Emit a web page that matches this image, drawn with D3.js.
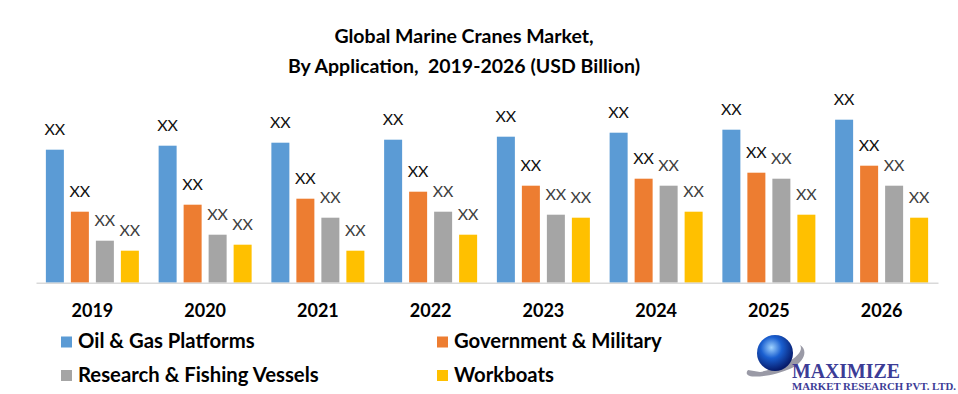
<!DOCTYPE html>
<html lang="en">
<head>
<meta charset="UTF-8">
<title>Global Marine Cranes Market</title>
<script src="https://d3js.org/d3.v7.min.js"></script>
<style>
  body { margin: 0; background: #fff; }
  text { font-family: Lato, "Open Sans", sans-serif; }
  text.logo { font-family: "Liberation Serif", "DejaVu Serif", serif; }
</style>
</head>
<body>
<div id="chart"></div>
<script>
// data (arbitrary units, labels are shown as "XX")
var years = ["2019", "2020", "2021", "2022", "2023", "2024", "2025", "2026"];
var seriesNames = ["Oil & Gas Platforms", "Government & Military", "Research & Fishing Vessels", "Workboats"];
var colors = ["#5B9BD5", "#ED7D31", "#A5A5A5", "#FFC000"];
var oilGas     = [13.3, 13.7, 14.0, 14.3, 14.6, 15.0, 15.3, 16.3];
var government = [7.1, 7.8, 8.4, 9.1, 9.7, 10.4, 11.0, 11.7];
var research   = [4.2, 4.8, 6.5, 7.1, 6.8, 9.7, 10.4, 9.7];
var workboats  = [3.2, 3.8, 3.2, 4.8, 6.5, 7.1, 6.8, 6.5];
var valueLabel = "XX";

var W = 958, H = 394;
var baseline = 282.7;

var svg = d3.select("#chart").append("svg")
  .attr("width", W).attr("height", H);

// title
svg.append("text").attr("x", 464).attr("y", 43)
  .attr("text-anchor", "middle").attr("font-weight", "bold")
  .attr("font-size", 19.5).attr("fill", "#000")
  .text("Global Marine Cranes Market,");
svg.append("text").attr("x", 464).attr("y", 73)
  .attr("text-anchor", "middle").attr("font-weight", "bold")
  .attr("font-size", 19.5).attr("fill", "#000")
  .style("white-space", "pre")
  .text("By Application,  2019-2026 (USD Billion)");

var data = years.map(function (y, i) {
  return { year: y, values: [oilGas[i], government[i], research[i], workboats[i]] };
});

var x0 = d3.scaleBand().domain(years).range([36, 938]).padding(0);
var x1 = d3.scaleBand().domain(d3.range(4)).range([0, x0.bandwidth()])
  .paddingInner(0.28).paddingOuter(0.395);
var y = d3.scaleLinear().domain([0, 20]).range([baseline, baseline - 200]);

var groups = svg.append("g").selectAll("g").data(data).join("g")
  .attr("transform", function (d) { return "translate(" + x0(d.year) + ",0)"; });

groups.selectAll("rect").data(function (d) { return d.values; }).join("rect")
  .attr("x", function (d, i) { return x1(i); })
  .attr("width", x1.bandwidth())
  .attr("y", function (d) { return y(d); })
  .attr("height", function (d) { return y(0) - y(d); })
  .attr("fill", function (d, i) { return colors[i]; });

groups.selectAll("text.lbl").data(function (d) { return d.values; }).join("text")
  .attr("class", "lbl")
  .attr("x", function (d, i) { return x1(i) + x1.bandwidth() / 2; })
  .attr("y", function (d) { return y(d) - 15; })
  .attr("text-anchor", "middle")
  .attr("font-size", 16)
  .attr("fill", function (d, i) { return i < 2 ? "#111" : "#404040"; })
  .text(valueLabel);

// x axis
var xAxis = svg.append("g")
  .attr("transform", "translate(0," + baseline + ")")
  .call(d3.axisBottom(x0).tickSize(0).tickPadding(22));
xAxis.select(".domain").attr("stroke", "#d9d9d9").attr("stroke-width", 1.5);
xAxis.selectAll("text")
  .attr("font-size", 18).attr("font-weight", "bold").attr("fill", "#000");

// legend
var legendPos = [[61, 336.5], [437, 336.5], [61, 370], [437, 370]];
var legend = svg.append("g").selectAll("g").data(seriesNames).join("g")
  .attr("transform", function (d, i) { return "translate(" + legendPos[i][0] + "," + legendPos[i][1] + ")"; });
legend.append("rect").attr("width", 11).attr("height", 11)
  .attr("fill", function (d, i) { return colors[i]; });
legend.append("text").attr("x", 17).attr("y", 11.5)
  .attr("font-size", 20.3).attr("font-weight", "bold").attr("fill", "#000")
  .text(function (d) { return d; });

// logo
var logo = svg.append("g");
var grad = svg.append("defs").append("radialGradient").attr("id", "globe")
  .attr("cx", "40%").attr("cy", "35%").attr("r", "65%");
grad.append("stop").attr("offset", "0%").attr("stop-color", "#9fd2ff");
grad.append("stop").attr("offset", "45%").attr("stop-color", "#1a5fd0");
grad.append("stop").attr("offset", "100%").attr("stop-color", "#061a6a");
logo.append("path")
  .attr("d", "M748,370 C740,380 770,378 792,368 C805,361 808,350 800,345 C805,352 790,366 760,372 Z")
  .attr("fill", "#9a9aa6");
logo.append("circle").attr("cx", 775).attr("cy", 353).attr("r", 18)
  .attr("fill", "url(#globe)");
logo.append("text").attr("class", "logo").attr("x", 792).attr("y", 378)
  .attr("font-weight", "bold")
  .attr("font-size", 20).attr("fill", "#3c3c96")
  .attr("textLength", 108).attr("lengthAdjust", "spacingAndGlyphs")
  .text("MAXIMIZE");
logo.append("text").attr("class", "logo").attr("x", 792).attr("y", 389.5)
  .attr("font-weight", "bold")
  .attr("font-size", 10.5).attr("fill", "#3c3c96")
  .attr("textLength", 164).attr("lengthAdjust", "spacingAndGlyphs")
  .text("MARKET RESEARCH PVT. LTD.");
</script>
</body>
</html>
